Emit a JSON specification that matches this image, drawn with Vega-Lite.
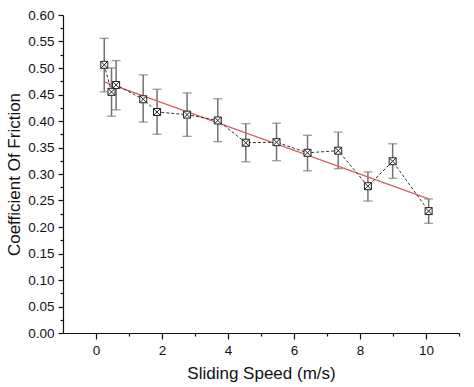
{
  "$schema": "https://vega.github.io/schema/vega-lite/v6.json",
  "width": 396,
  "height": 318,
  "autosize": {"type": "none"},
  "padding": {"left": 63, "top": 15, "right": 15, "bottom": 54},
  "background": "white",
  "config": {
    "view": {"stroke": null},
    "font": "Liberation Sans",
    "axis": {
      "domainColor": "#111",
      "domainWidth": 1.2,
      "tickColor": "#111",
      "tickWidth": 1.2,
      "labelColor": "#111",
      "titleColor": "#111",
      "labelFont": "Liberation Sans",
      "titleFont": "Liberation Sans",
      "labelFontSize": 13.5,
      "titleFontSize": 17,
      "titleFontWeight": "normal",
      "labelOverlap": false,
      "labelBound": false,
      "labelFlush": false,
      "grid": false
    }
  },
  "datasets": {
    "pts": [
      {"speed": 0.25, "cof": 0.506, "lo": 0.455, "hi": 0.556},
      {"speed": 0.47, "cof": 0.455, "lo": 0.409, "hi": 0.500},
      {"speed": 0.61, "cof": 0.468, "lo": 0.421, "hi": 0.514},
      {"speed": 1.43, "cof": 0.441, "lo": 0.398, "hi": 0.487},
      {"speed": 1.85, "cof": 0.417, "lo": 0.375, "hi": 0.460},
      {"speed": 2.76, "cof": 0.412, "lo": 0.371, "hi": 0.453},
      {"speed": 3.69, "cof": 0.401, "lo": 0.361, "hi": 0.442},
      {"speed": 4.54, "cof": 0.359, "lo": 0.323, "hi": 0.395},
      {"speed": 5.47, "cof": 0.360, "lo": 0.325, "hi": 0.396},
      {"speed": 6.41, "cof": 0.340, "lo": 0.306, "hi": 0.373},
      {"speed": 7.34, "cof": 0.344, "lo": 0.310, "hi": 0.379},
      {"speed": 8.24, "cof": 0.277, "lo": 0.249, "hi": 0.304},
      {"speed": 8.99, "cof": 0.324, "lo": 0.292, "hi": 0.357},
      {"speed": 10.08, "cof": 0.230, "lo": 0.207, "hi": 0.253}
    ],
    "fit": [
      {"speed": 0.25, "cof": 0.474},
      {"speed": 10.08, "cof": 0.253}
    ]
  },
  "resolve": {"axis": {"x": "independent", "y": "independent"}},
  "layer": [
    {
      "data": {"name": "pts"},
      "mark": {"type": "rule", "color": "#727272", "strokeWidth": 1.5},
      "encoding": {
        "x": {
          "field": "speed", "type": "quantitative",
          "scale": {"domain": [-1, 11], "nice": false, "zero": false},
          "axis": {
            "title": "Sliding Speed (m/s)",
            "orient": "bottom",
            "values": [0, 2, 4, 6, 8, 10],
            "tickSize": 6,
            "labelPadding": 4,
            "titlePadding": 9
          }
        },
        "y": {
          "field": "lo", "type": "quantitative",
          "scale": {"domain": [0, 0.6], "nice": false},
          "axis": {
            "title": "Coefficient Of Friction",
            "orient": "left",
            "values": [0, 0.05, 0.1, 0.15, 0.2, 0.25, 0.3, 0.35, 0.4, 0.45, 0.5, 0.55, 0.6],
            "format": ".2f",
            "tickSize": 5,
            "labelPadding": 4,
            "titlePadding": 4
          }
        },
        "y2": {"field": "hi"}
      }
    },
    {
      "data": {"name": "pts"},
      "mark": {"type": "tick", "orient": "horizontal", "color": "#727272", "size": 9, "thickness": 1.3},
      "encoding": {
        "x": {
          "field": "speed", "type": "quantitative",
          "axis": {
            "title": null,
            "orient": "bottom",
            "values": [1, 3, 5, 7, 9, 11],
            "labels": false,
            "domain": false,
            "tickSize": 3
          }
        },
        "y": {
          "field": "lo", "type": "quantitative",
          "axis": {
            "title": null,
            "orient": "left",
            "values": [0.025, 0.075, 0.125, 0.175, 0.225, 0.275, 0.325, 0.375, 0.425, 0.475, 0.525, 0.575],
            "labels": false,
            "domain": false,
            "tickSize": 3
          }
        }
      }
    },
    {
      "data": {"name": "pts"},
      "mark": {"type": "tick", "orient": "horizontal", "color": "#727272", "size": 9, "thickness": 1.3},
      "encoding": {
        "x": {"field": "speed", "type": "quantitative", "axis": null},
        "y": {"field": "hi", "type": "quantitative", "axis": null}
      }
    },
    {
      "data": {"name": "fit"},
      "mark": {"type": "line", "color": "#d06464", "strokeWidth": 1.3},
      "encoding": {
        "x": {"field": "speed", "type": "quantitative", "axis": null},
        "y": {"field": "cof", "type": "quantitative", "axis": null}
      }
    },
    {
      "data": {"name": "pts"},
      "mark": {"type": "line", "color": "#333333", "strokeWidth": 1, "strokeDash": [3, 2]},
      "encoding": {
        "x": {"field": "speed", "type": "quantitative", "axis": null},
        "y": {"field": "cof", "type": "quantitative", "axis": null}
      }
    },
    {
      "data": {"name": "pts"},
      "mark": {
        "type": "point",
        "shape": "M-1,-1L1,-1L1,1L-1,1Z M-1,-1L1,1 M1,-1L-1,1",
        "size": 49,
        "filled": false,
        "fill": "white",
        "fillOpacity": 1,
        "stroke": "#222222",
        "strokeWidth": 1,
        "opacity": 1
      },
      "encoding": {
        "x": {"field": "speed", "type": "quantitative", "axis": null},
        "y": {"field": "cof", "type": "quantitative", "axis": null}
      }
    }
  ]
}
